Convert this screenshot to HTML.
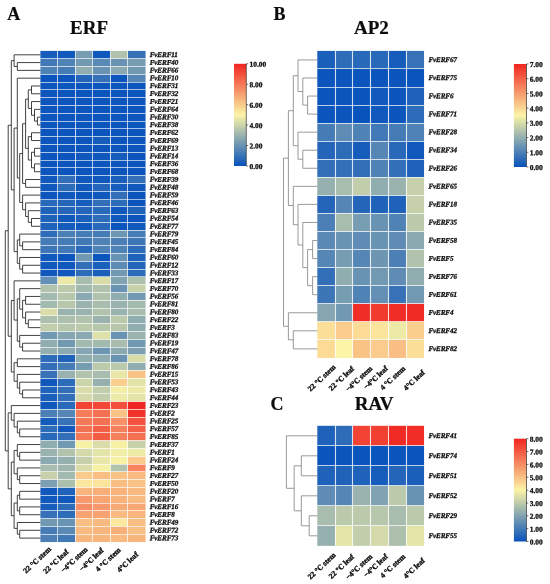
<!DOCTYPE html>
<html><head><meta charset="utf-8"><title>Heatmaps</title>
<style>
html,body{margin:0;padding:0;background:#fff}
svg{display:block}
text{font-family:"Liberation Serif",serif;fill:#0c0c0c}
.gl text,.xl text,.cl text{stroke:#0c0c0c;stroke-width:0.25px;paint-order:stroke}
.gl text{letter-spacing:-0.1px;stroke-width:0.28px}
.xl text{stroke-width:0.34px}
.tt text{stroke:#0c0c0c;stroke-width:0.2px}
.gl text{font-weight:bold;font-style:italic}
.xl text,.cl text,.tt text{font-weight:bold}
</style></head><body>
<svg width="550" height="584" viewBox="0 0 550 584">
<rect width="550" height="584" fill="#fff"/>
<defs><linearGradient id="cg" x1="0" y1="1" x2="0" y2="0"><stop offset="0" stop-color="#0652bc"/><stop offset="0.5" stop-color="#fcf4a6"/><stop offset="1" stop-color="#f02622"/></linearGradient></defs>
<rect x="40.40" y="50.90" width="17.57" height="7.85" fill="#155cbb"/>
<rect x="57.92" y="50.90" width="17.57" height="7.85" fill="#1058bb"/>
<rect x="75.43" y="50.90" width="17.57" height="7.85" fill="#779db2"/>
<rect x="92.95" y="50.90" width="17.57" height="7.85" fill="#1058bb"/>
<rect x="110.47" y="50.90" width="17.57" height="7.85" fill="#b2c3ad"/>
<rect x="127.98" y="50.90" width="17.57" height="7.85" fill="#3772b8"/>
<rect x="40.40" y="58.70" width="17.57" height="7.85" fill="#4179b7"/>
<rect x="57.92" y="58.70" width="17.57" height="7.85" fill="#5083b5"/>
<rect x="75.43" y="58.70" width="17.57" height="7.85" fill="#7299b2"/>
<rect x="92.95" y="58.70" width="17.57" height="7.85" fill="#5a89b5"/>
<rect x="110.47" y="58.70" width="17.57" height="7.85" fill="#6893b3"/>
<rect x="127.98" y="58.70" width="17.57" height="7.85" fill="#779db2"/>
<rect x="40.40" y="66.49" width="17.57" height="7.85" fill="#5083b5"/>
<rect x="57.92" y="66.49" width="17.57" height="7.85" fill="#467cb6"/>
<rect x="75.43" y="66.49" width="17.57" height="7.85" fill="#90adb0"/>
<rect x="92.95" y="66.49" width="17.57" height="7.85" fill="#6893b3"/>
<rect x="110.47" y="66.49" width="17.57" height="7.85" fill="#8ba9b0"/>
<rect x="127.98" y="66.49" width="17.57" height="7.85" fill="#7299b2"/>
<rect x="40.40" y="74.29" width="17.57" height="7.85" fill="#0b55bc"/>
<rect x="57.92" y="74.29" width="17.57" height="7.85" fill="#0b55bc"/>
<rect x="75.43" y="74.29" width="17.57" height="7.85" fill="#2465b9"/>
<rect x="92.95" y="74.29" width="17.57" height="7.85" fill="#3772b8"/>
<rect x="110.47" y="74.29" width="17.57" height="7.85" fill="#0b55bc"/>
<rect x="127.98" y="74.29" width="17.57" height="7.85" fill="#5586b5"/>
<rect x="40.40" y="82.08" width="17.57" height="7.85" fill="#0b55bc"/>
<rect x="57.92" y="82.08" width="17.57" height="7.85" fill="#0b55bc"/>
<rect x="75.43" y="82.08" width="17.57" height="7.85" fill="#0b55bc"/>
<rect x="92.95" y="82.08" width="17.57" height="7.85" fill="#0b55bc"/>
<rect x="110.47" y="82.08" width="17.57" height="7.85" fill="#0b55bc"/>
<rect x="127.98" y="82.08" width="17.57" height="7.85" fill="#0b55bc"/>
<rect x="40.40" y="89.88" width="17.57" height="7.85" fill="#0b55bc"/>
<rect x="57.92" y="89.88" width="17.57" height="7.85" fill="#0b55bc"/>
<rect x="75.43" y="89.88" width="17.57" height="7.85" fill="#0b55bc"/>
<rect x="92.95" y="89.88" width="17.57" height="7.85" fill="#0b55bc"/>
<rect x="110.47" y="89.88" width="17.57" height="7.85" fill="#0b55bc"/>
<rect x="127.98" y="89.88" width="17.57" height="7.85" fill="#0b55bc"/>
<rect x="40.40" y="97.67" width="17.57" height="7.85" fill="#0b55bc"/>
<rect x="57.92" y="97.67" width="17.57" height="7.85" fill="#0b55bc"/>
<rect x="75.43" y="97.67" width="17.57" height="7.85" fill="#0b55bc"/>
<rect x="92.95" y="97.67" width="17.57" height="7.85" fill="#0b55bc"/>
<rect x="110.47" y="97.67" width="17.57" height="7.85" fill="#0b55bc"/>
<rect x="127.98" y="97.67" width="17.57" height="7.85" fill="#0b55bc"/>
<rect x="40.40" y="105.47" width="17.57" height="7.85" fill="#0b55bc"/>
<rect x="57.92" y="105.47" width="17.57" height="7.85" fill="#0b55bc"/>
<rect x="75.43" y="105.47" width="17.57" height="7.85" fill="#0b55bc"/>
<rect x="92.95" y="105.47" width="17.57" height="7.85" fill="#0b55bc"/>
<rect x="110.47" y="105.47" width="17.57" height="7.85" fill="#0b55bc"/>
<rect x="127.98" y="105.47" width="17.57" height="7.85" fill="#0b55bc"/>
<rect x="40.40" y="113.26" width="17.57" height="7.85" fill="#0b55bc"/>
<rect x="57.92" y="113.26" width="17.57" height="7.85" fill="#0b55bc"/>
<rect x="75.43" y="113.26" width="17.57" height="7.85" fill="#0b55bc"/>
<rect x="92.95" y="113.26" width="17.57" height="7.85" fill="#0b55bc"/>
<rect x="110.47" y="113.26" width="17.57" height="7.85" fill="#0b55bc"/>
<rect x="127.98" y="113.26" width="17.57" height="7.85" fill="#0b55bc"/>
<rect x="40.40" y="121.06" width="17.57" height="7.85" fill="#0b55bc"/>
<rect x="57.92" y="121.06" width="17.57" height="7.85" fill="#0b55bc"/>
<rect x="75.43" y="121.06" width="17.57" height="7.85" fill="#0b55bc"/>
<rect x="92.95" y="121.06" width="17.57" height="7.85" fill="#0b55bc"/>
<rect x="110.47" y="121.06" width="17.57" height="7.85" fill="#0b55bc"/>
<rect x="127.98" y="121.06" width="17.57" height="7.85" fill="#0b55bc"/>
<rect x="40.40" y="128.85" width="17.57" height="7.85" fill="#0b55bc"/>
<rect x="57.92" y="128.85" width="17.57" height="7.85" fill="#0b55bc"/>
<rect x="75.43" y="128.85" width="17.57" height="7.85" fill="#0b55bc"/>
<rect x="92.95" y="128.85" width="17.57" height="7.85" fill="#0b55bc"/>
<rect x="110.47" y="128.85" width="17.57" height="7.85" fill="#0b55bc"/>
<rect x="127.98" y="128.85" width="17.57" height="7.85" fill="#0b55bc"/>
<rect x="40.40" y="136.65" width="17.57" height="7.85" fill="#0b55bc"/>
<rect x="57.92" y="136.65" width="17.57" height="7.85" fill="#0b55bc"/>
<rect x="75.43" y="136.65" width="17.57" height="7.85" fill="#0b55bc"/>
<rect x="92.95" y="136.65" width="17.57" height="7.85" fill="#155cbb"/>
<rect x="110.47" y="136.65" width="17.57" height="7.85" fill="#0b55bc"/>
<rect x="127.98" y="136.65" width="17.57" height="7.85" fill="#0b55bc"/>
<rect x="40.40" y="144.44" width="17.57" height="7.85" fill="#0b55bc"/>
<rect x="57.92" y="144.44" width="17.57" height="7.85" fill="#0b55bc"/>
<rect x="75.43" y="144.44" width="17.57" height="7.85" fill="#0b55bc"/>
<rect x="92.95" y="144.44" width="17.57" height="7.85" fill="#0b55bc"/>
<rect x="110.47" y="144.44" width="17.57" height="7.85" fill="#0b55bc"/>
<rect x="127.98" y="144.44" width="17.57" height="7.85" fill="#0b55bc"/>
<rect x="40.40" y="152.24" width="17.57" height="7.85" fill="#0b55bc"/>
<rect x="57.92" y="152.24" width="17.57" height="7.85" fill="#0b55bc"/>
<rect x="75.43" y="152.24" width="17.57" height="7.85" fill="#1058bb"/>
<rect x="92.95" y="152.24" width="17.57" height="7.85" fill="#1058bb"/>
<rect x="110.47" y="152.24" width="17.57" height="7.85" fill="#155cbb"/>
<rect x="127.98" y="152.24" width="17.57" height="7.85" fill="#0b55bc"/>
<rect x="40.40" y="160.03" width="17.57" height="7.85" fill="#0b55bc"/>
<rect x="57.92" y="160.03" width="17.57" height="7.85" fill="#0b55bc"/>
<rect x="75.43" y="160.03" width="17.57" height="7.85" fill="#0b55bc"/>
<rect x="92.95" y="160.03" width="17.57" height="7.85" fill="#0b55bc"/>
<rect x="110.47" y="160.03" width="17.57" height="7.85" fill="#0b55bc"/>
<rect x="127.98" y="160.03" width="17.57" height="7.85" fill="#0b55bc"/>
<rect x="40.40" y="167.83" width="17.57" height="7.85" fill="#0b55bc"/>
<rect x="57.92" y="167.83" width="17.57" height="7.85" fill="#0b55bc"/>
<rect x="75.43" y="167.83" width="17.57" height="7.85" fill="#0b55bc"/>
<rect x="92.95" y="167.83" width="17.57" height="7.85" fill="#0b55bc"/>
<rect x="110.47" y="167.83" width="17.57" height="7.85" fill="#0b55bc"/>
<rect x="127.98" y="167.83" width="17.57" height="7.85" fill="#0b55bc"/>
<rect x="40.40" y="175.62" width="17.57" height="7.85" fill="#1058bb"/>
<rect x="57.92" y="175.62" width="17.57" height="7.85" fill="#326fb8"/>
<rect x="75.43" y="175.62" width="17.57" height="7.85" fill="#1058bb"/>
<rect x="92.95" y="175.62" width="17.57" height="7.85" fill="#1058bb"/>
<rect x="110.47" y="175.62" width="17.57" height="7.85" fill="#1a5fba"/>
<rect x="127.98" y="175.62" width="17.57" height="7.85" fill="#326fb8"/>
<rect x="40.40" y="183.42" width="17.57" height="7.85" fill="#1058bb"/>
<rect x="57.92" y="183.42" width="17.57" height="7.85" fill="#2d6cb8"/>
<rect x="75.43" y="183.42" width="17.57" height="7.85" fill="#1058bb"/>
<rect x="92.95" y="183.42" width="17.57" height="7.85" fill="#2465b9"/>
<rect x="110.47" y="183.42" width="17.57" height="7.85" fill="#155cbb"/>
<rect x="127.98" y="183.42" width="17.57" height="7.85" fill="#1058bb"/>
<rect x="40.40" y="191.21" width="17.57" height="7.85" fill="#0b55bc"/>
<rect x="57.92" y="191.21" width="17.57" height="7.85" fill="#1058bb"/>
<rect x="75.43" y="191.21" width="17.57" height="7.85" fill="#0b55bc"/>
<rect x="92.95" y="191.21" width="17.57" height="7.85" fill="#1058bb"/>
<rect x="110.47" y="191.21" width="17.57" height="7.85" fill="#326fb8"/>
<rect x="127.98" y="191.21" width="17.57" height="7.85" fill="#0b55bc"/>
<rect x="40.40" y="199.01" width="17.57" height="7.85" fill="#2869b9"/>
<rect x="57.92" y="199.01" width="17.57" height="7.85" fill="#2465b9"/>
<rect x="75.43" y="199.01" width="17.57" height="7.85" fill="#155cbb"/>
<rect x="92.95" y="199.01" width="17.57" height="7.85" fill="#326fb8"/>
<rect x="110.47" y="199.01" width="17.57" height="7.85" fill="#2d6cb8"/>
<rect x="127.98" y="199.01" width="17.57" height="7.85" fill="#0b55bc"/>
<rect x="40.40" y="206.80" width="17.57" height="7.85" fill="#1f62ba"/>
<rect x="57.92" y="206.80" width="17.57" height="7.85" fill="#2465b9"/>
<rect x="75.43" y="206.80" width="17.57" height="7.85" fill="#2465b9"/>
<rect x="92.95" y="206.80" width="17.57" height="7.85" fill="#2869b9"/>
<rect x="110.47" y="206.80" width="17.57" height="7.85" fill="#1058bb"/>
<rect x="127.98" y="206.80" width="17.57" height="7.85" fill="#1f62ba"/>
<rect x="40.40" y="214.60" width="17.57" height="7.85" fill="#1f62ba"/>
<rect x="57.92" y="214.60" width="17.57" height="7.85" fill="#1058bb"/>
<rect x="75.43" y="214.60" width="17.57" height="7.85" fill="#1a5fba"/>
<rect x="92.95" y="214.60" width="17.57" height="7.85" fill="#2d6cb8"/>
<rect x="110.47" y="214.60" width="17.57" height="7.85" fill="#1058bb"/>
<rect x="127.98" y="214.60" width="17.57" height="7.85" fill="#0b55bc"/>
<rect x="40.40" y="222.40" width="17.57" height="7.85" fill="#1f62ba"/>
<rect x="57.92" y="222.40" width="17.57" height="7.85" fill="#155cbb"/>
<rect x="75.43" y="222.40" width="17.57" height="7.85" fill="#1058bb"/>
<rect x="92.95" y="222.40" width="17.57" height="7.85" fill="#2869b9"/>
<rect x="110.47" y="222.40" width="17.57" height="7.85" fill="#0b55bc"/>
<rect x="127.98" y="222.40" width="17.57" height="7.85" fill="#1058bb"/>
<rect x="40.40" y="230.19" width="17.57" height="7.85" fill="#2d6cb8"/>
<rect x="57.92" y="230.19" width="17.57" height="7.85" fill="#4b7fb6"/>
<rect x="75.43" y="230.19" width="17.57" height="7.85" fill="#467cb6"/>
<rect x="92.95" y="230.19" width="17.57" height="7.85" fill="#467cb6"/>
<rect x="110.47" y="230.19" width="17.57" height="7.85" fill="#6d96b3"/>
<rect x="127.98" y="230.19" width="17.57" height="7.85" fill="#467cb6"/>
<rect x="40.40" y="237.99" width="17.57" height="7.85" fill="#467cb6"/>
<rect x="57.92" y="237.99" width="17.57" height="7.85" fill="#467cb6"/>
<rect x="75.43" y="237.99" width="17.57" height="7.85" fill="#4179b7"/>
<rect x="92.95" y="237.99" width="17.57" height="7.85" fill="#5083b5"/>
<rect x="110.47" y="237.99" width="17.57" height="7.85" fill="#4b7fb6"/>
<rect x="127.98" y="237.99" width="17.57" height="7.85" fill="#3c76b7"/>
<rect x="40.40" y="245.78" width="17.57" height="7.85" fill="#3c76b7"/>
<rect x="57.92" y="245.78" width="17.57" height="7.85" fill="#4179b7"/>
<rect x="75.43" y="245.78" width="17.57" height="7.85" fill="#2869b9"/>
<rect x="92.95" y="245.78" width="17.57" height="7.85" fill="#5083b5"/>
<rect x="110.47" y="245.78" width="17.57" height="7.85" fill="#5083b5"/>
<rect x="127.98" y="245.78" width="17.57" height="7.85" fill="#2d6cb8"/>
<rect x="40.40" y="253.58" width="17.57" height="7.85" fill="#1058bb"/>
<rect x="57.92" y="253.58" width="17.57" height="7.85" fill="#0b55bc"/>
<rect x="75.43" y="253.58" width="17.57" height="7.85" fill="#7299b2"/>
<rect x="92.95" y="253.58" width="17.57" height="7.85" fill="#0b55bc"/>
<rect x="110.47" y="253.58" width="17.57" height="7.85" fill="#6893b3"/>
<rect x="127.98" y="253.58" width="17.57" height="7.85" fill="#1f62ba"/>
<rect x="40.40" y="261.37" width="17.57" height="7.85" fill="#1058bb"/>
<rect x="57.92" y="261.37" width="17.57" height="7.85" fill="#1058bb"/>
<rect x="75.43" y="261.37" width="17.57" height="7.85" fill="#326fb8"/>
<rect x="92.95" y="261.37" width="17.57" height="7.85" fill="#1a5fba"/>
<rect x="110.47" y="261.37" width="17.57" height="7.85" fill="#5f8cb4"/>
<rect x="127.98" y="261.37" width="17.57" height="7.85" fill="#2465b9"/>
<rect x="40.40" y="269.17" width="17.57" height="7.85" fill="#1058bb"/>
<rect x="57.92" y="269.17" width="17.57" height="7.85" fill="#1058bb"/>
<rect x="75.43" y="269.17" width="17.57" height="7.85" fill="#2d6cb8"/>
<rect x="92.95" y="269.17" width="17.57" height="7.85" fill="#1a5fba"/>
<rect x="110.47" y="269.17" width="17.57" height="7.85" fill="#7299b2"/>
<rect x="127.98" y="269.17" width="17.57" height="7.85" fill="#2d6cb8"/>
<rect x="40.40" y="276.96" width="17.57" height="7.85" fill="#6390b4"/>
<rect x="57.92" y="276.96" width="17.57" height="7.85" fill="#edeaa7"/>
<rect x="75.43" y="276.96" width="17.57" height="7.85" fill="#a8bdad"/>
<rect x="92.95" y="276.96" width="17.57" height="7.85" fill="#dadda9"/>
<rect x="110.47" y="276.96" width="17.57" height="7.85" fill="#81a3b1"/>
<rect x="127.98" y="276.96" width="17.57" height="7.85" fill="#adc0ad"/>
<rect x="40.40" y="284.76" width="17.57" height="7.85" fill="#b2c3ad"/>
<rect x="57.92" y="284.76" width="17.57" height="7.85" fill="#bccaac"/>
<rect x="75.43" y="284.76" width="17.57" height="7.85" fill="#a3baae"/>
<rect x="92.95" y="284.76" width="17.57" height="7.85" fill="#b2c3ad"/>
<rect x="110.47" y="284.76" width="17.57" height="7.85" fill="#6893b3"/>
<rect x="127.98" y="284.76" width="17.57" height="7.85" fill="#c6d0ab"/>
<rect x="40.40" y="292.55" width="17.57" height="7.85" fill="#a3baae"/>
<rect x="57.92" y="292.55" width="17.57" height="7.85" fill="#b7c7ac"/>
<rect x="75.43" y="292.55" width="17.57" height="7.85" fill="#8ba9b0"/>
<rect x="92.95" y="292.55" width="17.57" height="7.85" fill="#b2c3ad"/>
<rect x="110.47" y="292.55" width="17.57" height="7.85" fill="#90adb0"/>
<rect x="127.98" y="292.55" width="17.57" height="7.85" fill="#7299b2"/>
<rect x="40.40" y="300.35" width="17.57" height="7.85" fill="#a3baae"/>
<rect x="57.92" y="300.35" width="17.57" height="7.85" fill="#b7c7ac"/>
<rect x="75.43" y="300.35" width="17.57" height="7.85" fill="#9ab3af"/>
<rect x="92.95" y="300.35" width="17.57" height="7.85" fill="#a8bdad"/>
<rect x="110.47" y="300.35" width="17.57" height="7.85" fill="#9ab3af"/>
<rect x="127.98" y="300.35" width="17.57" height="7.85" fill="#a3baae"/>
<rect x="40.40" y="308.14" width="17.57" height="7.85" fill="#dadda9"/>
<rect x="57.92" y="308.14" width="17.57" height="7.85" fill="#9ab3af"/>
<rect x="75.43" y="308.14" width="17.57" height="7.85" fill="#9ab3af"/>
<rect x="92.95" y="308.14" width="17.57" height="7.85" fill="#b2c3ad"/>
<rect x="110.47" y="308.14" width="17.57" height="7.85" fill="#9ab3af"/>
<rect x="127.98" y="308.14" width="17.57" height="7.85" fill="#a8bdad"/>
<rect x="40.40" y="315.94" width="17.57" height="7.85" fill="#adc0ad"/>
<rect x="57.92" y="315.94" width="17.57" height="7.85" fill="#adc0ad"/>
<rect x="75.43" y="315.94" width="17.57" height="7.85" fill="#b2c3ad"/>
<rect x="92.95" y="315.94" width="17.57" height="7.85" fill="#9ab3af"/>
<rect x="110.47" y="315.94" width="17.57" height="7.85" fill="#bccaac"/>
<rect x="127.98" y="315.94" width="17.57" height="7.85" fill="#90adb0"/>
<rect x="40.40" y="323.73" width="17.57" height="7.85" fill="#c1cdab"/>
<rect x="57.92" y="323.73" width="17.57" height="7.85" fill="#b7c7ac"/>
<rect x="75.43" y="323.73" width="17.57" height="7.85" fill="#bccaac"/>
<rect x="92.95" y="323.73" width="17.57" height="7.85" fill="#b7c7ac"/>
<rect x="110.47" y="323.73" width="17.57" height="7.85" fill="#b7c7ac"/>
<rect x="127.98" y="323.73" width="17.57" height="7.85" fill="#90adb0"/>
<rect x="40.40" y="331.53" width="17.57" height="7.85" fill="#7299b2"/>
<rect x="57.92" y="331.53" width="17.57" height="7.85" fill="#86a6b1"/>
<rect x="75.43" y="331.53" width="17.57" height="7.85" fill="#8ba9b0"/>
<rect x="92.95" y="331.53" width="17.57" height="7.85" fill="#dee1a9"/>
<rect x="110.47" y="331.53" width="17.57" height="7.85" fill="#6893b3"/>
<rect x="127.98" y="331.53" width="17.57" height="7.85" fill="#9ab3af"/>
<rect x="40.40" y="339.32" width="17.57" height="7.85" fill="#90adb0"/>
<rect x="57.92" y="339.32" width="17.57" height="7.85" fill="#7299b2"/>
<rect x="75.43" y="339.32" width="17.57" height="7.85" fill="#a3baae"/>
<rect x="92.95" y="339.32" width="17.57" height="7.85" fill="#a3baae"/>
<rect x="110.47" y="339.32" width="17.57" height="7.85" fill="#a8bdad"/>
<rect x="127.98" y="339.32" width="17.57" height="7.85" fill="#7299b2"/>
<rect x="40.40" y="347.12" width="17.57" height="7.85" fill="#95b0af"/>
<rect x="57.92" y="347.12" width="17.57" height="7.85" fill="#8ba9b0"/>
<rect x="75.43" y="347.12" width="17.57" height="7.85" fill="#86a6b1"/>
<rect x="92.95" y="347.12" width="17.57" height="7.85" fill="#6d96b3"/>
<rect x="110.47" y="347.12" width="17.57" height="7.85" fill="#8ba9b0"/>
<rect x="127.98" y="347.12" width="17.57" height="7.85" fill="#7ca0b1"/>
<rect x="40.40" y="354.91" width="17.57" height="7.85" fill="#2d6cb8"/>
<rect x="57.92" y="354.91" width="17.57" height="7.85" fill="#1f62ba"/>
<rect x="75.43" y="354.91" width="17.57" height="7.85" fill="#90adb0"/>
<rect x="92.95" y="354.91" width="17.57" height="7.85" fill="#90adb0"/>
<rect x="110.47" y="354.91" width="17.57" height="7.85" fill="#6893b3"/>
<rect x="127.98" y="354.91" width="17.57" height="7.85" fill="#dadda9"/>
<rect x="40.40" y="362.71" width="17.57" height="7.85" fill="#326fb8"/>
<rect x="57.92" y="362.71" width="17.57" height="7.85" fill="#467cb6"/>
<rect x="75.43" y="362.71" width="17.57" height="7.85" fill="#779db2"/>
<rect x="92.95" y="362.71" width="17.57" height="7.85" fill="#bccaac"/>
<rect x="110.47" y="362.71" width="17.57" height="7.85" fill="#bccaac"/>
<rect x="127.98" y="362.71" width="17.57" height="7.85" fill="#90adb0"/>
<rect x="40.40" y="370.50" width="17.57" height="7.85" fill="#3772b8"/>
<rect x="57.92" y="370.50" width="17.57" height="7.85" fill="#9ab3af"/>
<rect x="75.43" y="370.50" width="17.57" height="7.85" fill="#b2c3ad"/>
<rect x="92.95" y="370.50" width="17.57" height="7.85" fill="#a8bdad"/>
<rect x="110.47" y="370.50" width="17.57" height="7.85" fill="#e8e7a8"/>
<rect x="127.98" y="370.50" width="17.57" height="7.85" fill="#f9c386"/>
<rect x="40.40" y="378.30" width="17.57" height="7.85" fill="#1058bb"/>
<rect x="57.92" y="378.30" width="17.57" height="7.85" fill="#2d6cb8"/>
<rect x="75.43" y="378.30" width="17.57" height="7.85" fill="#cbd4aa"/>
<rect x="92.95" y="378.30" width="17.57" height="7.85" fill="#95b0af"/>
<rect x="110.47" y="378.30" width="17.57" height="7.85" fill="#facf8e"/>
<rect x="127.98" y="378.30" width="17.57" height="7.85" fill="#e3e4a8"/>
<rect x="40.40" y="386.10" width="17.57" height="7.85" fill="#1f62ba"/>
<rect x="57.92" y="386.10" width="17.57" height="7.85" fill="#326fb8"/>
<rect x="75.43" y="386.10" width="17.57" height="7.85" fill="#dadda9"/>
<rect x="92.95" y="386.10" width="17.57" height="7.85" fill="#c1cdab"/>
<rect x="110.47" y="386.10" width="17.57" height="7.85" fill="#f2eea7"/>
<rect x="127.98" y="386.10" width="17.57" height="7.85" fill="#edeaa7"/>
<rect x="40.40" y="393.89" width="17.57" height="7.85" fill="#1a5fba"/>
<rect x="57.92" y="393.89" width="17.57" height="7.85" fill="#326fb8"/>
<rect x="75.43" y="393.89" width="17.57" height="7.85" fill="#d5daaa"/>
<rect x="92.95" y="393.89" width="17.57" height="7.85" fill="#c1cdab"/>
<rect x="110.47" y="393.89" width="17.57" height="7.85" fill="#edeaa7"/>
<rect x="127.98" y="393.89" width="17.57" height="7.85" fill="#e3e4a8"/>
<rect x="40.40" y="401.69" width="17.57" height="7.85" fill="#1058bb"/>
<rect x="57.92" y="401.69" width="17.57" height="7.85" fill="#2869b9"/>
<rect x="75.43" y="401.69" width="17.57" height="7.85" fill="#f24334"/>
<rect x="92.95" y="401.69" width="17.57" height="7.85" fill="#f24737"/>
<rect x="110.47" y="401.69" width="17.57" height="7.85" fill="#f24f3c"/>
<rect x="127.98" y="401.69" width="17.57" height="7.85" fill="#f02622"/>
<rect x="40.40" y="409.48" width="17.57" height="7.85" fill="#4b7fb6"/>
<rect x="57.92" y="409.48" width="17.57" height="7.85" fill="#5586b5"/>
<rect x="75.43" y="409.48" width="17.57" height="7.85" fill="#f57d59"/>
<rect x="92.95" y="409.48" width="17.57" height="7.85" fill="#f47052"/>
<rect x="110.47" y="409.48" width="17.57" height="7.85" fill="#f9c386"/>
<rect x="127.98" y="409.48" width="17.57" height="7.85" fill="#f1322a"/>
<rect x="40.40" y="417.28" width="17.57" height="7.85" fill="#155cbb"/>
<rect x="57.92" y="417.28" width="17.57" height="7.85" fill="#3772b8"/>
<rect x="75.43" y="417.28" width="17.57" height="7.85" fill="#f57857"/>
<rect x="92.95" y="417.28" width="17.57" height="7.85" fill="#f47052"/>
<rect x="110.47" y="417.28" width="17.57" height="7.85" fill="#f69167"/>
<rect x="127.98" y="417.28" width="17.57" height="7.85" fill="#f3533f"/>
<rect x="40.40" y="425.07" width="17.57" height="7.85" fill="#2d6cb8"/>
<rect x="57.92" y="425.07" width="17.57" height="7.85" fill="#1058bb"/>
<rect x="75.43" y="425.07" width="17.57" height="7.85" fill="#f47052"/>
<rect x="92.95" y="425.07" width="17.57" height="7.85" fill="#f36047"/>
<rect x="110.47" y="425.07" width="17.57" height="7.85" fill="#f5815c"/>
<rect x="127.98" y="425.07" width="17.57" height="7.85" fill="#f36047"/>
<rect x="40.40" y="432.87" width="17.57" height="7.85" fill="#2869b9"/>
<rect x="57.92" y="432.87" width="17.57" height="7.85" fill="#326fb8"/>
<rect x="75.43" y="432.87" width="17.57" height="7.85" fill="#f57857"/>
<rect x="92.95" y="432.87" width="17.57" height="7.85" fill="#f35c44"/>
<rect x="110.47" y="432.87" width="17.57" height="7.85" fill="#f5815c"/>
<rect x="127.98" y="432.87" width="17.57" height="7.85" fill="#f47052"/>
<rect x="40.40" y="440.66" width="17.57" height="7.85" fill="#90adb0"/>
<rect x="57.92" y="440.66" width="17.57" height="7.85" fill="#7299b2"/>
<rect x="75.43" y="440.66" width="17.57" height="7.85" fill="#f7f1a6"/>
<rect x="92.95" y="440.66" width="17.57" height="7.85" fill="#dadda9"/>
<rect x="110.47" y="440.66" width="17.57" height="7.85" fill="#f7f1a6"/>
<rect x="127.98" y="440.66" width="17.57" height="7.85" fill="#c6d0ab"/>
<rect x="40.40" y="448.46" width="17.57" height="7.85" fill="#9ab3af"/>
<rect x="57.92" y="448.46" width="17.57" height="7.85" fill="#b2c3ad"/>
<rect x="75.43" y="448.46" width="17.57" height="7.85" fill="#d5daaa"/>
<rect x="92.95" y="448.46" width="17.57" height="7.85" fill="#e3e4a8"/>
<rect x="110.47" y="448.46" width="17.57" height="7.85" fill="#f2eea7"/>
<rect x="127.98" y="448.46" width="17.57" height="7.85" fill="#edeaa7"/>
<rect x="40.40" y="456.25" width="17.57" height="7.85" fill="#8ba9b0"/>
<rect x="57.92" y="456.25" width="17.57" height="7.85" fill="#95b0af"/>
<rect x="75.43" y="456.25" width="17.57" height="7.85" fill="#c6d0ab"/>
<rect x="92.95" y="456.25" width="17.57" height="7.85" fill="#e8e7a8"/>
<rect x="110.47" y="456.25" width="17.57" height="7.85" fill="#f7f1a6"/>
<rect x="127.98" y="456.25" width="17.57" height="7.85" fill="#facb8c"/>
<rect x="40.40" y="464.05" width="17.57" height="7.85" fill="#a8bdad"/>
<rect x="57.92" y="464.05" width="17.57" height="7.85" fill="#9fb6ae"/>
<rect x="75.43" y="464.05" width="17.57" height="7.85" fill="#dadda9"/>
<rect x="92.95" y="464.05" width="17.57" height="7.85" fill="#f7f1a6"/>
<rect x="110.47" y="464.05" width="17.57" height="7.85" fill="#b2c3ad"/>
<rect x="127.98" y="464.05" width="17.57" height="7.85" fill="#f6855f"/>
<rect x="40.40" y="471.84" width="17.57" height="7.85" fill="#c6d0ab"/>
<rect x="57.92" y="471.84" width="17.57" height="7.85" fill="#a3baae"/>
<rect x="75.43" y="471.84" width="17.57" height="7.85" fill="#facb8c"/>
<rect x="92.95" y="471.84" width="17.57" height="7.85" fill="#f9be84"/>
<rect x="110.47" y="471.84" width="17.57" height="7.85" fill="#f9c386"/>
<rect x="127.98" y="471.84" width="17.57" height="7.85" fill="#f9ba81"/>
<rect x="40.40" y="479.64" width="17.57" height="7.85" fill="#7ca0b1"/>
<rect x="57.92" y="479.64" width="17.57" height="7.85" fill="#adc0ad"/>
<rect x="75.43" y="479.64" width="17.57" height="7.85" fill="#fbe89e"/>
<rect x="92.95" y="479.64" width="17.57" height="7.85" fill="#fbe49b"/>
<rect x="110.47" y="479.64" width="17.57" height="7.85" fill="#f9be84"/>
<rect x="127.98" y="479.64" width="17.57" height="7.85" fill="#f9c386"/>
<rect x="40.40" y="487.43" width="17.57" height="7.85" fill="#1058bb"/>
<rect x="57.92" y="487.43" width="17.57" height="7.85" fill="#1f62ba"/>
<rect x="75.43" y="487.43" width="17.57" height="7.85" fill="#f8b67e"/>
<rect x="92.95" y="487.43" width="17.57" height="7.85" fill="#f8ae79"/>
<rect x="110.47" y="487.43" width="17.57" height="7.85" fill="#f8b27c"/>
<rect x="127.98" y="487.43" width="17.57" height="7.85" fill="#f9ba81"/>
<rect x="40.40" y="495.23" width="17.57" height="7.85" fill="#1058bb"/>
<rect x="57.92" y="495.23" width="17.57" height="7.85" fill="#1058bb"/>
<rect x="75.43" y="495.23" width="17.57" height="7.85" fill="#f7996c"/>
<rect x="92.95" y="495.23" width="17.57" height="7.85" fill="#f7a674"/>
<rect x="110.47" y="495.23" width="17.57" height="7.85" fill="#f8b27c"/>
<rect x="127.98" y="495.23" width="17.57" height="7.85" fill="#f9ba81"/>
<rect x="40.40" y="503.02" width="17.57" height="7.85" fill="#155cbb"/>
<rect x="57.92" y="503.02" width="17.57" height="7.85" fill="#2d6cb8"/>
<rect x="75.43" y="503.02" width="17.57" height="7.85" fill="#f68d64"/>
<rect x="92.95" y="503.02" width="17.57" height="7.85" fill="#f7996c"/>
<rect x="110.47" y="503.02" width="17.57" height="7.85" fill="#f8aa76"/>
<rect x="127.98" y="503.02" width="17.57" height="7.85" fill="#f7a674"/>
<rect x="40.40" y="510.82" width="17.57" height="7.85" fill="#3772b8"/>
<rect x="57.92" y="510.82" width="17.57" height="7.85" fill="#2d6cb8"/>
<rect x="75.43" y="510.82" width="17.57" height="7.85" fill="#f7a271"/>
<rect x="92.95" y="510.82" width="17.57" height="7.85" fill="#f7a271"/>
<rect x="110.47" y="510.82" width="17.57" height="7.85" fill="#f9ba81"/>
<rect x="127.98" y="510.82" width="17.57" height="7.85" fill="#f8b67e"/>
<rect x="40.40" y="518.61" width="17.57" height="7.85" fill="#7299b2"/>
<rect x="57.92" y="518.61" width="17.57" height="7.85" fill="#6893b3"/>
<rect x="75.43" y="518.61" width="17.57" height="7.85" fill="#f9be84"/>
<rect x="92.95" y="518.61" width="17.57" height="7.85" fill="#f9ba81"/>
<rect x="110.47" y="518.61" width="17.57" height="7.85" fill="#fbe89e"/>
<rect x="127.98" y="518.61" width="17.57" height="7.85" fill="#f9be84"/>
<rect x="40.40" y="526.41" width="17.57" height="7.85" fill="#467cb6"/>
<rect x="57.92" y="526.41" width="17.57" height="7.85" fill="#5a89b5"/>
<rect x="75.43" y="526.41" width="17.57" height="7.85" fill="#f9ba81"/>
<rect x="92.95" y="526.41" width="17.57" height="7.85" fill="#f8b67e"/>
<rect x="110.47" y="526.41" width="17.57" height="7.85" fill="#f8ae79"/>
<rect x="127.98" y="526.41" width="17.57" height="7.85" fill="#f9be84"/>
<rect x="40.40" y="534.20" width="17.57" height="7.85" fill="#4b7fb6"/>
<rect x="57.92" y="534.20" width="17.57" height="7.85" fill="#4179b7"/>
<rect x="75.43" y="534.20" width="17.57" height="7.85" fill="#f8b67e"/>
<rect x="92.95" y="534.20" width="17.57" height="7.85" fill="#f8b67e"/>
<rect x="110.47" y="534.20" width="17.57" height="7.85" fill="#f9ba81"/>
<rect x="127.98" y="534.20" width="17.57" height="7.85" fill="#f8b67e"/>
<path d="M40.40 58.50H145.50M40.40 66.50H145.50M40.40 74.50H145.50M40.40 82.50H145.50M40.40 89.50H145.50M40.40 97.50H145.50M40.40 105.50H145.50M40.40 113.50H145.50M40.40 121.50H145.50M40.40 128.50H145.50M40.40 136.50H145.50M40.40 144.50H145.50M40.40 152.50H145.50M40.40 160.50H145.50M40.40 167.50H145.50M40.40 175.50H145.50M40.40 183.50H145.50M40.40 191.50H145.50M40.40 199.50H145.50M40.40 206.50H145.50M40.40 214.50H145.50M40.40 222.50H145.50M40.40 230.50H145.50M40.40 237.50H145.50M40.40 245.50H145.50M40.40 253.50H145.50M40.40 261.50H145.50M40.40 269.50H145.50M40.40 276.50H145.50M40.40 284.50H145.50M40.40 292.50H145.50M40.40 300.50H145.50M40.40 308.50H145.50M40.40 315.50H145.50M40.40 323.50H145.50M40.40 331.50H145.50M40.40 339.50H145.50M40.40 347.50H145.50M40.40 354.50H145.50M40.40 362.50H145.50M40.40 370.50H145.50M40.40 378.50H145.50M40.40 386.50H145.50M40.40 393.50H145.50M40.40 401.50H145.50M40.40 409.50H145.50M40.40 417.50H145.50M40.40 425.50H145.50M40.40 432.50H145.50M40.40 440.50H145.50M40.40 448.50H145.50M40.40 456.50H145.50M40.40 464.50H145.50M40.40 471.50H145.50M40.40 479.50H145.50M40.40 487.50H145.50M40.40 495.50H145.50M40.40 503.50H145.50M40.40 510.50H145.50M40.40 518.50H145.50M40.40 526.50H145.50M40.40 534.50H145.50" stroke="#fff" stroke-opacity="0.61" stroke-width="1.00" fill="none"/>
<path d="M57.50 50.90V542.00M75.50 50.90V542.00M92.50 50.90V542.00M110.50 50.90V542.00M127.50 50.90V542.00" stroke="#fff" stroke-opacity="0.71" stroke-width="1.00" fill="none"/>
<rect x="317.30" y="50.90" width="17.83" height="18.11" fill="#1a5fba"/>
<rect x="335.08" y="50.90" width="17.83" height="18.11" fill="#2d6cb8"/>
<rect x="352.87" y="50.90" width="17.83" height="18.11" fill="#2869b9"/>
<rect x="370.65" y="50.90" width="17.83" height="18.11" fill="#2869b9"/>
<rect x="388.43" y="50.90" width="17.83" height="18.11" fill="#155cbb"/>
<rect x="406.22" y="50.90" width="17.83" height="18.11" fill="#3772b8"/>
<rect x="317.30" y="68.96" width="17.83" height="18.11" fill="#0b55bc"/>
<rect x="335.08" y="68.96" width="17.83" height="18.11" fill="#0b55bc"/>
<rect x="352.87" y="68.96" width="17.83" height="18.11" fill="#0b55bc"/>
<rect x="370.65" y="68.96" width="17.83" height="18.11" fill="#0b55bc"/>
<rect x="388.43" y="68.96" width="17.83" height="18.11" fill="#0b55bc"/>
<rect x="406.22" y="68.96" width="17.83" height="18.11" fill="#0b55bc"/>
<rect x="317.30" y="87.02" width="17.83" height="18.11" fill="#0b55bc"/>
<rect x="335.08" y="87.02" width="17.83" height="18.11" fill="#0b55bc"/>
<rect x="352.87" y="87.02" width="17.83" height="18.11" fill="#0b55bc"/>
<rect x="370.65" y="87.02" width="17.83" height="18.11" fill="#1058bb"/>
<rect x="388.43" y="87.02" width="17.83" height="18.11" fill="#0b55bc"/>
<rect x="406.22" y="87.02" width="17.83" height="18.11" fill="#1f62ba"/>
<rect x="317.30" y="105.08" width="17.83" height="18.11" fill="#0b55bc"/>
<rect x="335.08" y="105.08" width="17.83" height="18.11" fill="#0b55bc"/>
<rect x="352.87" y="105.08" width="17.83" height="18.11" fill="#0854bc"/>
<rect x="370.65" y="105.08" width="17.83" height="18.11" fill="#1058bb"/>
<rect x="388.43" y="105.08" width="17.83" height="18.11" fill="#0b55bc"/>
<rect x="406.22" y="105.08" width="17.83" height="18.11" fill="#2d6cb8"/>
<rect x="317.30" y="123.14" width="17.83" height="18.11" fill="#467cb6"/>
<rect x="335.08" y="123.14" width="17.83" height="18.11" fill="#5f8cb4"/>
<rect x="352.87" y="123.14" width="17.83" height="18.11" fill="#5083b5"/>
<rect x="370.65" y="123.14" width="17.83" height="18.11" fill="#4179b7"/>
<rect x="388.43" y="123.14" width="17.83" height="18.11" fill="#467cb6"/>
<rect x="406.22" y="123.14" width="17.83" height="18.11" fill="#5083b5"/>
<rect x="317.30" y="141.19" width="17.83" height="18.11" fill="#2465b9"/>
<rect x="335.08" y="141.19" width="17.83" height="18.11" fill="#2d6cb8"/>
<rect x="352.87" y="141.19" width="17.83" height="18.11" fill="#155cbb"/>
<rect x="370.65" y="141.19" width="17.83" height="18.11" fill="#5586b5"/>
<rect x="388.43" y="141.19" width="17.83" height="18.11" fill="#2869b9"/>
<rect x="406.22" y="141.19" width="17.83" height="18.11" fill="#1058bb"/>
<rect x="317.30" y="159.25" width="17.83" height="18.11" fill="#326fb8"/>
<rect x="335.08" y="159.25" width="17.83" height="18.11" fill="#326fb8"/>
<rect x="352.87" y="159.25" width="17.83" height="18.11" fill="#326fb8"/>
<rect x="370.65" y="159.25" width="17.83" height="18.11" fill="#5083b5"/>
<rect x="388.43" y="159.25" width="17.83" height="18.11" fill="#326fb8"/>
<rect x="406.22" y="159.25" width="17.83" height="18.11" fill="#1f62ba"/>
<rect x="317.30" y="177.31" width="17.83" height="18.11" fill="#95b0af"/>
<rect x="335.08" y="177.31" width="17.83" height="18.11" fill="#a8bdad"/>
<rect x="352.87" y="177.31" width="17.83" height="18.11" fill="#c1cdab"/>
<rect x="370.65" y="177.31" width="17.83" height="18.11" fill="#90adb0"/>
<rect x="388.43" y="177.31" width="17.83" height="18.11" fill="#9ab3af"/>
<rect x="406.22" y="177.31" width="17.83" height="18.11" fill="#c6d0ab"/>
<rect x="317.30" y="195.37" width="17.83" height="18.11" fill="#2465b9"/>
<rect x="335.08" y="195.37" width="17.83" height="18.11" fill="#5586b5"/>
<rect x="352.87" y="195.37" width="17.83" height="18.11" fill="#2465b9"/>
<rect x="370.65" y="195.37" width="17.83" height="18.11" fill="#1f62ba"/>
<rect x="388.43" y="195.37" width="17.83" height="18.11" fill="#1f62ba"/>
<rect x="406.22" y="195.37" width="17.83" height="18.11" fill="#c6d0ab"/>
<rect x="317.30" y="213.43" width="17.83" height="18.11" fill="#4b7fb6"/>
<rect x="335.08" y="213.43" width="17.83" height="18.11" fill="#a8bdad"/>
<rect x="352.87" y="213.43" width="17.83" height="18.11" fill="#779db2"/>
<rect x="370.65" y="213.43" width="17.83" height="18.11" fill="#6893b3"/>
<rect x="388.43" y="213.43" width="17.83" height="18.11" fill="#5083b5"/>
<rect x="406.22" y="213.43" width="17.83" height="18.11" fill="#bccaac"/>
<rect x="317.30" y="231.49" width="17.83" height="18.11" fill="#5a89b5"/>
<rect x="335.08" y="231.49" width="17.83" height="18.11" fill="#6893b3"/>
<rect x="352.87" y="231.49" width="17.83" height="18.11" fill="#5f8cb4"/>
<rect x="370.65" y="231.49" width="17.83" height="18.11" fill="#6893b3"/>
<rect x="388.43" y="231.49" width="17.83" height="18.11" fill="#5f8cb4"/>
<rect x="406.22" y="231.49" width="17.83" height="18.11" fill="#8ba9b0"/>
<rect x="317.30" y="249.55" width="17.83" height="18.11" fill="#5586b5"/>
<rect x="335.08" y="249.55" width="17.83" height="18.11" fill="#779db2"/>
<rect x="352.87" y="249.55" width="17.83" height="18.11" fill="#5586b5"/>
<rect x="370.65" y="249.55" width="17.83" height="18.11" fill="#6d96b3"/>
<rect x="388.43" y="249.55" width="17.83" height="18.11" fill="#4b7fb6"/>
<rect x="406.22" y="249.55" width="17.83" height="18.11" fill="#b2c3ad"/>
<rect x="317.30" y="267.61" width="17.83" height="18.11" fill="#326fb8"/>
<rect x="335.08" y="267.61" width="17.83" height="18.11" fill="#90adb0"/>
<rect x="352.87" y="267.61" width="17.83" height="18.11" fill="#6893b3"/>
<rect x="370.65" y="267.61" width="17.83" height="18.11" fill="#7299b2"/>
<rect x="388.43" y="267.61" width="17.83" height="18.11" fill="#5f8cb4"/>
<rect x="406.22" y="267.61" width="17.83" height="18.11" fill="#90adb0"/>
<rect x="317.30" y="285.66" width="17.83" height="18.11" fill="#3c76b7"/>
<rect x="335.08" y="285.66" width="17.83" height="18.11" fill="#779db2"/>
<rect x="352.87" y="285.66" width="17.83" height="18.11" fill="#5083b5"/>
<rect x="370.65" y="285.66" width="17.83" height="18.11" fill="#6390b4"/>
<rect x="388.43" y="285.66" width="17.83" height="18.11" fill="#3772b8"/>
<rect x="406.22" y="285.66" width="17.83" height="18.11" fill="#7299b2"/>
<rect x="317.30" y="303.72" width="17.83" height="18.11" fill="#86a6b1"/>
<rect x="335.08" y="303.72" width="17.83" height="18.11" fill="#7299b2"/>
<rect x="352.87" y="303.72" width="17.83" height="18.11" fill="#f02e27"/>
<rect x="370.65" y="303.72" width="17.83" height="18.11" fill="#f13b2f"/>
<rect x="388.43" y="303.72" width="17.83" height="18.11" fill="#f02e27"/>
<rect x="406.22" y="303.72" width="17.83" height="18.11" fill="#f02a25"/>
<rect x="317.30" y="321.78" width="17.83" height="18.11" fill="#fbdf99"/>
<rect x="335.08" y="321.78" width="17.83" height="18.11" fill="#facb8c"/>
<rect x="352.87" y="321.78" width="17.83" height="18.11" fill="#fbdb96"/>
<rect x="370.65" y="321.78" width="17.83" height="18.11" fill="#fbe49b"/>
<rect x="388.43" y="321.78" width="17.83" height="18.11" fill="#edeaa7"/>
<rect x="406.22" y="321.78" width="17.83" height="18.11" fill="#facf8e"/>
<rect x="317.30" y="339.84" width="17.83" height="18.11" fill="#fbdb96"/>
<rect x="335.08" y="339.84" width="17.83" height="18.11" fill="#fcf4a6"/>
<rect x="352.87" y="339.84" width="17.83" height="18.11" fill="#f9c386"/>
<rect x="370.65" y="339.84" width="17.83" height="18.11" fill="#facb8c"/>
<rect x="388.43" y="339.84" width="17.83" height="18.11" fill="#f9be84"/>
<rect x="406.22" y="339.84" width="17.83" height="18.11" fill="#fbdf99"/>
<path d="M317.30 68.50H424.00M317.30 87.50H424.00M317.30 105.50H424.00M317.30 123.50H424.00M317.30 141.50H424.00M317.30 159.50H424.00M317.30 177.50H424.00M317.30 195.50H424.00M317.30 213.50H424.00M317.30 231.50H424.00M317.30 249.50H424.00M317.30 267.50H424.00M317.30 285.50H424.00M317.30 303.50H424.00M317.30 321.50H424.00M317.30 339.50H424.00" stroke="#fff" stroke-opacity="0.70" stroke-width="1.10" fill="none"/>
<path d="M335.50 50.90V357.90M352.50 50.90V357.90M370.50 50.90V357.90M388.50 50.90V357.90M406.50 50.90V357.90" stroke="#fff" stroke-opacity="0.80" stroke-width="1.10" fill="none"/>
<rect x="317.30" y="425.80" width="17.83" height="20.05" fill="#1f62ba"/>
<rect x="335.08" y="425.80" width="17.83" height="20.05" fill="#2d6cb8"/>
<rect x="352.87" y="425.80" width="17.83" height="20.05" fill="#f24334"/>
<rect x="370.65" y="425.80" width="17.83" height="20.05" fill="#f13f32"/>
<rect x="388.43" y="425.80" width="17.83" height="20.05" fill="#f02a25"/>
<rect x="406.22" y="425.80" width="17.83" height="20.05" fill="#f02e27"/>
<rect x="317.30" y="445.80" width="17.83" height="20.05" fill="#0b55bc"/>
<rect x="335.08" y="445.80" width="17.83" height="20.05" fill="#0b55bc"/>
<rect x="352.87" y="445.80" width="17.83" height="20.05" fill="#0b55bc"/>
<rect x="370.65" y="445.80" width="17.83" height="20.05" fill="#0b55bc"/>
<rect x="388.43" y="445.80" width="17.83" height="20.05" fill="#0b55bc"/>
<rect x="406.22" y="445.80" width="17.83" height="20.05" fill="#0b55bc"/>
<rect x="317.30" y="465.80" width="17.83" height="20.05" fill="#1f62ba"/>
<rect x="335.08" y="465.80" width="17.83" height="20.05" fill="#1f62ba"/>
<rect x="352.87" y="465.80" width="17.83" height="20.05" fill="#1f62ba"/>
<rect x="370.65" y="465.80" width="17.83" height="20.05" fill="#155cbb"/>
<rect x="388.43" y="465.80" width="17.83" height="20.05" fill="#2465b9"/>
<rect x="406.22" y="465.80" width="17.83" height="20.05" fill="#1a5fba"/>
<rect x="317.30" y="485.80" width="17.83" height="20.05" fill="#5f8cb4"/>
<rect x="335.08" y="485.80" width="17.83" height="20.05" fill="#5586b5"/>
<rect x="352.87" y="485.80" width="17.83" height="20.05" fill="#9ab3af"/>
<rect x="370.65" y="485.80" width="17.83" height="20.05" fill="#81a3b1"/>
<rect x="388.43" y="485.80" width="17.83" height="20.05" fill="#bccaac"/>
<rect x="406.22" y="485.80" width="17.83" height="20.05" fill="#6893b3"/>
<rect x="317.30" y="505.80" width="17.83" height="20.05" fill="#a8bdad"/>
<rect x="335.08" y="505.80" width="17.83" height="20.05" fill="#bccaac"/>
<rect x="352.87" y="505.80" width="17.83" height="20.05" fill="#bccaac"/>
<rect x="370.65" y="505.80" width="17.83" height="20.05" fill="#b7c7ac"/>
<rect x="388.43" y="505.80" width="17.83" height="20.05" fill="#a8bdad"/>
<rect x="406.22" y="505.80" width="17.83" height="20.05" fill="#bccaac"/>
<rect x="317.30" y="525.80" width="17.83" height="20.05" fill="#95b0af"/>
<rect x="335.08" y="525.80" width="17.83" height="20.05" fill="#e3e4a8"/>
<rect x="352.87" y="525.80" width="17.83" height="20.05" fill="#c1cdab"/>
<rect x="370.65" y="525.80" width="17.83" height="20.05" fill="#d5daaa"/>
<rect x="388.43" y="525.80" width="17.83" height="20.05" fill="#adc0ad"/>
<rect x="406.22" y="525.80" width="17.83" height="20.05" fill="#e3e4a8"/>
<path d="M317.30 445.50H424.00M317.30 465.50H424.00M317.30 485.50H424.00M317.30 505.50H424.00M317.30 525.50H424.00" stroke="#fff" stroke-opacity="0.70" stroke-width="1.10" fill="none"/>
<path d="M335.50 425.80V545.80M352.50 425.80V545.80M370.50 425.80V545.80M388.50 425.80V545.80M406.50 425.80V545.80" stroke="#fff" stroke-opacity="0.80" stroke-width="1.10" fill="none"/>
<path d="M40.40 62.59H17.30V70.39H40.40M40.40 54.80H14.10V66.49H17.30M40.40 85.98H31.50V93.77H40.40M40.40 117.16H37.40V124.95H40.40M40.40 109.36H34.50V121.06H37.40M40.40 101.57H31.50V115.21H34.50M31.50 89.88H28.30V108.39H31.50M40.40 132.75H31.50V140.55H40.40M40.40 148.34H34.50V156.14H40.40M40.40 163.93H34.50V171.73H40.40M34.50 152.24H31.50V167.83H34.50M31.50 136.65H28.30V160.03H31.50M28.30 99.13H25.60V148.34H28.30M40.40 179.52H25.60V187.32H40.40M25.60 123.74H22.60V183.42H25.60M40.40 218.50H31.50V226.29H40.40M40.40 210.70H28.30V222.40H31.50M40.40 202.91H25.60V216.55H28.30M40.40 195.11H22.60V209.73H25.60M22.60 153.58H19.70V202.42H22.60M40.40 78.18H17.30V178.00H19.70M40.40 241.88H22.60V249.68H40.40M40.40 234.09H19.70V245.78H22.60M40.40 265.27H22.60V273.06H40.40M40.40 257.47H19.70V269.17H22.60M19.70 239.93H17.30V263.32H19.70M17.30 128.09H14.10V251.63H17.30M14.10 60.64H11.30V189.86H14.10M40.40 296.45H25.60V304.25H40.40M40.40 319.84H28.30V327.63H40.40M40.40 312.04H25.60V323.73H28.30M25.60 300.35H22.60V317.89H25.60M40.40 288.65H19.70V309.12H22.60M40.40 343.22H22.60V351.02H40.40M40.40 335.43H19.70V347.12H22.60M19.70 298.89H17.30V341.27H19.70M40.40 280.86H14.10V320.08H17.30M40.40 358.81H17.30V366.61H40.40M40.40 389.99H22.60V397.79H40.40M40.40 382.20H19.70V393.89H22.60M40.40 374.40H17.30V388.04H19.70M17.30 362.71H14.10V381.22H17.30M14.10 300.47H11.30V371.97H14.10M11.30 125.25H8.20V336.22H11.30M40.40 428.97H19.70V436.76H40.40M40.40 421.17H17.30V432.87H19.70M40.40 413.38H14.10V427.02H17.30M40.40 405.58H11.30V420.20H14.10M40.40 452.35H19.70V460.15H40.40M40.40 444.56H17.30V456.25H19.70M40.40 475.74H19.70V483.54H40.40M40.40 467.95H17.30V479.64H19.70M17.30 450.41H14.10V473.79H17.30M40.40 491.33H19.70V499.13H40.40M40.40 506.92H19.70V514.72H40.40M19.70 495.23H17.30V510.82H19.70M40.40 530.31H19.70V538.10H40.40M40.40 522.51H17.30V534.20H19.70M17.30 503.02H14.10V528.36H17.30M14.10 462.10H11.30V515.69H14.10M11.30 412.89H8.20V488.89H11.30M8.20 230.73H5.30V450.89H8.20" stroke="#2c2c2c" stroke-width="0.9" fill="none"/>
<path d="M317.30 96.05H307.60V114.11H317.30M317.30 77.99H302.80V105.08H307.60M317.30 59.93H298.00V91.53H302.80M317.30 150.22H302.80V168.28H317.30M317.30 132.16H298.00V159.25H302.80M298.00 75.73H293.30V145.71H298.00M317.30 240.52H312.60V258.58H317.30M317.30 276.64H312.60V294.69H317.30M312.60 249.55H307.60V285.66H312.60M317.30 222.46H302.80V267.61H307.60M317.30 204.40H298.00V245.03H302.80M317.30 186.34H293.30V224.72H298.00M293.30 110.72H288.40V205.53H293.30M317.30 330.81H293.30V348.87H317.30M317.30 312.75H288.40V339.84H293.30M288.40 158.12H283.50V326.30H288.40" stroke="#808080" stroke-width="0.8" fill="none"/>
<path d="M317.30 455.80H301.30V475.80H317.30M317.30 515.80H309.20V535.80H317.30M317.30 495.80H301.30V525.80H309.20M301.30 465.80H294.20V510.80H301.30M317.30 435.80H286.40V488.30H294.20" stroke="#808080" stroke-width="0.8" fill="none"/>
<g class="gl" font-size="7.25">
<text transform="translate(149.70 56.90) rotate(0.05) scale(0.980 1)">FvERF11</text>
<text transform="translate(149.70 64.69) rotate(0.05) scale(0.980 1)">FvERF40</text>
<text transform="translate(149.70 72.49) rotate(0.05) scale(0.980 1)">FvERF66</text>
<text transform="translate(149.70 80.28) rotate(0.05) scale(0.980 1)">FvERF10</text>
<text transform="translate(149.70 88.08) rotate(0.05) scale(0.980 1)">FvERF31</text>
<text transform="translate(149.70 95.87) rotate(0.05) scale(0.980 1)">FvERF32</text>
<text transform="translate(149.70 103.67) rotate(0.05) scale(0.980 1)">FvERF21</text>
<text transform="translate(149.70 111.46) rotate(0.05) scale(0.980 1)">FvERF64</text>
<text transform="translate(149.70 119.26) rotate(0.05) scale(0.980 1)">FvERF30</text>
<text transform="translate(149.70 127.05) rotate(0.05) scale(0.980 1)">FvERF38</text>
<text transform="translate(149.70 134.85) rotate(0.05) scale(0.980 1)">FvERF62</text>
<text transform="translate(149.70 142.65) rotate(0.05) scale(0.980 1)">FvERF69</text>
<text transform="translate(149.70 150.44) rotate(0.05) scale(0.980 1)">FvERF13</text>
<text transform="translate(149.70 158.24) rotate(0.05) scale(0.980 1)">FvERF14</text>
<text transform="translate(149.70 166.03) rotate(0.05) scale(0.980 1)">FvERF36</text>
<text transform="translate(149.70 173.83) rotate(0.05) scale(0.980 1)">FvERF68</text>
<text transform="translate(149.70 181.62) rotate(0.05) scale(0.980 1)">FvERF39</text>
<text transform="translate(149.70 189.42) rotate(0.05) scale(0.980 1)">FvERF48</text>
<text transform="translate(149.70 197.21) rotate(0.05) scale(0.980 1)">FvERF59</text>
<text transform="translate(149.70 205.01) rotate(0.05) scale(0.980 1)">FvERF46</text>
<text transform="translate(149.70 212.80) rotate(0.05) scale(0.980 1)">FvERF63</text>
<text transform="translate(149.70 220.60) rotate(0.05) scale(0.980 1)">FvERF54</text>
<text transform="translate(149.70 228.39) rotate(0.05) scale(0.980 1)">FvERF77</text>
<text transform="translate(149.70 236.19) rotate(0.05) scale(0.980 1)">FvERF79</text>
<text transform="translate(149.70 243.98) rotate(0.05) scale(0.980 1)">FvERF45</text>
<text transform="translate(149.70 251.78) rotate(0.05) scale(0.980 1)">FvERF84</text>
<text transform="translate(149.70 259.57) rotate(0.05) scale(0.980 1)">FvERF60</text>
<text transform="translate(149.70 267.37) rotate(0.05) scale(0.980 1)">FvERF12</text>
<text transform="translate(149.70 275.16) rotate(0.05) scale(0.980 1)">FvERF33</text>
<text transform="translate(149.70 282.96) rotate(0.05) scale(0.980 1)">FvERF17</text>
<text transform="translate(149.70 290.75) rotate(0.05) scale(0.980 1)">FvERF70</text>
<text transform="translate(149.70 298.55) rotate(0.05) scale(0.980 1)">FvERF56</text>
<text transform="translate(149.70 306.35) rotate(0.05) scale(0.980 1)">FvERF81</text>
<text transform="translate(149.70 314.14) rotate(0.05) scale(0.980 1)">FvERF80</text>
<text transform="translate(149.70 321.94) rotate(0.05) scale(0.980 1)">FvERF22</text>
<text transform="translate(149.70 329.73) rotate(0.05) scale(0.980 1)">FvERF3</text>
<text transform="translate(149.70 337.53) rotate(0.05) scale(0.980 1)">FvERF83</text>
<text transform="translate(149.70 345.32) rotate(0.05) scale(0.980 1)">FvERF19</text>
<text transform="translate(149.70 353.12) rotate(0.05) scale(0.980 1)">FvERF47</text>
<text transform="translate(149.70 360.91) rotate(0.05) scale(0.980 1)">FvERF78</text>
<text transform="translate(149.70 368.71) rotate(0.05) scale(0.980 1)">FvERF86</text>
<text transform="translate(149.70 376.50) rotate(0.05) scale(0.980 1)">FvERF15</text>
<text transform="translate(149.70 384.30) rotate(0.05) scale(0.980 1)">FvERF53</text>
<text transform="translate(149.70 392.09) rotate(0.05) scale(0.980 1)">FvERF43</text>
<text transform="translate(149.70 399.89) rotate(0.05) scale(0.980 1)">FvERF44</text>
<text transform="translate(149.70 407.68) rotate(0.05) scale(0.980 1)">FvERF23</text>
<text transform="translate(149.70 415.48) rotate(0.05) scale(0.980 1)">FvERF2</text>
<text transform="translate(149.70 423.27) rotate(0.05) scale(0.980 1)">FvERF25</text>
<text transform="translate(149.70 431.07) rotate(0.05) scale(0.980 1)">FvERF57</text>
<text transform="translate(149.70 438.86) rotate(0.05) scale(0.980 1)">FvERF85</text>
<text transform="translate(149.70 446.66) rotate(0.05) scale(0.980 1)">FvERF37</text>
<text transform="translate(149.70 454.45) rotate(0.05) scale(0.980 1)">FvERF1</text>
<text transform="translate(149.70 462.25) rotate(0.05) scale(0.980 1)">FvERF24</text>
<text transform="translate(149.70 470.05) rotate(0.05) scale(0.980 1)">FvERF9</text>
<text transform="translate(149.70 477.84) rotate(0.05) scale(0.980 1)">FvERF27</text>
<text transform="translate(149.70 485.64) rotate(0.05) scale(0.980 1)">FvERF50</text>
<text transform="translate(149.70 493.43) rotate(0.05) scale(0.980 1)">FvERF20</text>
<text transform="translate(149.70 501.23) rotate(0.05) scale(0.980 1)">FvERF7</text>
<text transform="translate(149.70 509.02) rotate(0.05) scale(0.980 1)">FvERF16</text>
<text transform="translate(149.70 516.82) rotate(0.05) scale(0.980 1)">FvERF8</text>
<text transform="translate(149.70 524.61) rotate(0.05) scale(0.980 1)">FvERF49</text>
<text transform="translate(149.70 532.41) rotate(0.05) scale(0.980 1)">FvERF72</text>
<text transform="translate(149.70 540.20) rotate(0.05) scale(0.980 1)">FvERF73</text>
</g>
<g class="gl" font-size="7.25">
<text transform="translate(428.40 62.03) rotate(0.05) scale(0.980 1)">FvERF67</text>
<text transform="translate(428.40 80.09) rotate(0.05) scale(0.980 1)">FvERF75</text>
<text transform="translate(428.40 98.15) rotate(0.05) scale(0.980 1)">FvERF6</text>
<text transform="translate(428.40 116.21) rotate(0.05) scale(0.980 1)">FvERF71</text>
<text transform="translate(428.40 134.26) rotate(0.05) scale(0.980 1)">FvERF28</text>
<text transform="translate(428.40 152.32) rotate(0.05) scale(0.980 1)">FvERF34</text>
<text transform="translate(428.40 170.38) rotate(0.05) scale(0.980 1)">FvERF26</text>
<text transform="translate(428.40 188.44) rotate(0.05) scale(0.980 1)">FvERF65</text>
<text transform="translate(428.40 206.50) rotate(0.05) scale(0.980 1)">FvERF18</text>
<text transform="translate(428.40 224.56) rotate(0.05) scale(0.980 1)">FvERF35</text>
<text transform="translate(428.40 242.62) rotate(0.05) scale(0.980 1)">FvERF58</text>
<text transform="translate(428.40 260.68) rotate(0.05) scale(0.980 1)">FvERF5</text>
<text transform="translate(428.40 278.74) rotate(0.05) scale(0.980 1)">FvERF76</text>
<text transform="translate(428.40 296.79) rotate(0.05) scale(0.980 1)">FvERF61</text>
<text transform="translate(428.40 314.85) rotate(0.05) scale(0.980 1)">FvERF4</text>
<text transform="translate(428.40 332.91) rotate(0.05) scale(0.980 1)">FvERF42</text>
<text transform="translate(428.40 350.97) rotate(0.05) scale(0.980 1)">FvERF82</text>
</g>
<g class="gl" font-size="7.25">
<text transform="translate(428.40 437.90) rotate(0.05) scale(0.980 1)">FvERF41</text>
<text transform="translate(428.40 457.90) rotate(0.05) scale(0.980 1)">FvERF74</text>
<text transform="translate(428.40 477.90) rotate(0.05) scale(0.980 1)">FvERF51</text>
<text transform="translate(428.40 497.90) rotate(0.05) scale(0.980 1)">FvERF52</text>
<text transform="translate(428.40 517.90) rotate(0.05) scale(0.980 1)">FvERF29</text>
<text transform="translate(428.40 537.90) rotate(0.05) scale(0.980 1)">FvERF55</text>
</g>
<g class="xl" font-size="7.60">
<text transform="translate(51.66 549.80) rotate(-43)" text-anchor="end">22 °C stem</text>
<text transform="translate(69.17 552.50) rotate(-43)" text-anchor="end">22 °C leaf</text>
<text transform="translate(88.19 550.10) rotate(-43)" text-anchor="end">−4°C stem</text>
<text transform="translate(104.21 551.00) rotate(-43)" text-anchor="end">−4°C leaf</text>
<text transform="translate(121.22 550.70) rotate(-43)" text-anchor="end">4 °C stem</text>
<text transform="translate(138.74 555.10) rotate(-43)" text-anchor="end">4°C leaf</text>
</g>
<g class="xl" font-size="7.60">
<text transform="translate(336.19 367.80) rotate(-43)" text-anchor="end">22 °C stem</text>
<text transform="translate(354.68 369.50) rotate(-43)" text-anchor="end">22 °C leaf</text>
<text transform="translate(372.96 369.10) rotate(-43)" text-anchor="end">−4°C stem</text>
<text transform="translate(388.44 369.10) rotate(-43)" text-anchor="end">−4°C leaf</text>
<text transform="translate(405.82 369.10) rotate(-43)" text-anchor="end">4 °C stem</text>
<text transform="translate(425.31 373.20) rotate(-43)" text-anchor="end">4°C leaf</text>
</g>
<g class="xl" font-size="7.60">
<text transform="translate(336.19 555.80) rotate(-43)" text-anchor="end">22 °C stem</text>
<text transform="translate(354.68 557.50) rotate(-43)" text-anchor="end">22 °C leaf</text>
<text transform="translate(372.96 557.10) rotate(-43)" text-anchor="end">−4°C stem</text>
<text transform="translate(388.44 557.10) rotate(-43)" text-anchor="end">−4°C leaf</text>
<text transform="translate(405.82 557.10) rotate(-43)" text-anchor="end">4 °C stem</text>
<text transform="translate(425.31 561.20) rotate(-43)" text-anchor="end">4°C leaf</text>
</g>
<rect x="234.00" y="63.80" width="12.30" height="102.20" fill="url(#cg)"/>
<g class="cl" font-size="7.50">
<text transform="translate(249.50 66.80) rotate(0.05)">10.00</text>
<text transform="translate(249.50 87.24) rotate(0.05)">8.00</text>
<text transform="translate(249.50 107.68) rotate(0.05)">6.00</text>
<text transform="translate(249.50 128.12) rotate(0.05)">4.00</text>
<text transform="translate(249.50 148.56) rotate(0.05)">2.00</text>
<text transform="translate(249.50 169.00) rotate(0.05)">0.00</text>
</g>
<path d="M246.30 63.80V166.00M246.30 63.80h1.9M246.30 84.24h1.9M246.30 104.68h1.9M246.30 125.12h1.9M246.30 145.56h1.9M246.30 166.00h1.9" stroke="#333" stroke-width="0.7" fill="none"/>
<rect x="513.90" y="64.00" width="12.60" height="103.00" fill="url(#cg)"/>
<g class="cl" font-size="7.50">
<text transform="translate(529.70 67.00) rotate(0.05)">7.00</text>
<text transform="translate(529.70 81.71) rotate(0.05)">6.00</text>
<text transform="translate(529.70 96.43) rotate(0.05)">5.00</text>
<text transform="translate(529.70 111.14) rotate(0.05)">4.00</text>
<text transform="translate(529.70 125.86) rotate(0.05)">3.00</text>
<text transform="translate(529.70 140.57) rotate(0.05)">2.00</text>
<text transform="translate(529.70 155.29) rotate(0.05)">1.00</text>
<text transform="translate(529.70 170.00) rotate(0.05)">0.00</text>
</g>
<path d="M526.50 64.00V167.00M526.50 64.00h1.9M526.50 78.71h1.9M526.50 93.43h1.9M526.50 108.14h1.9M526.50 122.86h1.9M526.50 137.57h1.9M526.50 152.29h1.9M526.50 167.00h1.9" stroke="#333" stroke-width="0.7" fill="none"/>
<rect x="513.90" y="438.70" width="12.60" height="102.80" fill="url(#cg)"/>
<g class="cl" font-size="7.50">
<text transform="translate(529.70 441.70) rotate(0.05)">8.00</text>
<text transform="translate(529.70 454.55) rotate(0.05)">7.00</text>
<text transform="translate(529.70 467.40) rotate(0.05)">6.00</text>
<text transform="translate(529.70 480.25) rotate(0.05)">5.00</text>
<text transform="translate(529.70 493.10) rotate(0.05)">4.00</text>
<text transform="translate(529.70 505.95) rotate(0.05)">3.00</text>
<text transform="translate(529.70 518.80) rotate(0.05)">2.00</text>
<text transform="translate(529.70 531.65) rotate(0.05)">1.00</text>
<text transform="translate(529.70 544.50) rotate(0.05)">0.00</text>
</g>
<path d="M526.50 438.70V541.50M526.50 438.70h1.9M526.50 451.55h1.9M526.50 464.40h1.9M526.50 477.25h1.9M526.50 490.10h1.9M526.50 502.95h1.9M526.50 515.80h1.9M526.50 528.65h1.9M526.50 541.50h1.9" stroke="#333" stroke-width="0.7" fill="none"/>
<g class="tt"><text x="7.2" y="19.5" font-size="18">A</text><text x="273.5" y="19.5" font-size="18">B</text><text x="270.6" y="409.8" font-size="18">C</text><text x="70" y="33.8" font-size="19">ERF</text><text x="354" y="33.8" font-size="19">AP2</text><text x="354.7" y="410.3" font-size="19">RAV</text></g>
</svg>
</body></html>
